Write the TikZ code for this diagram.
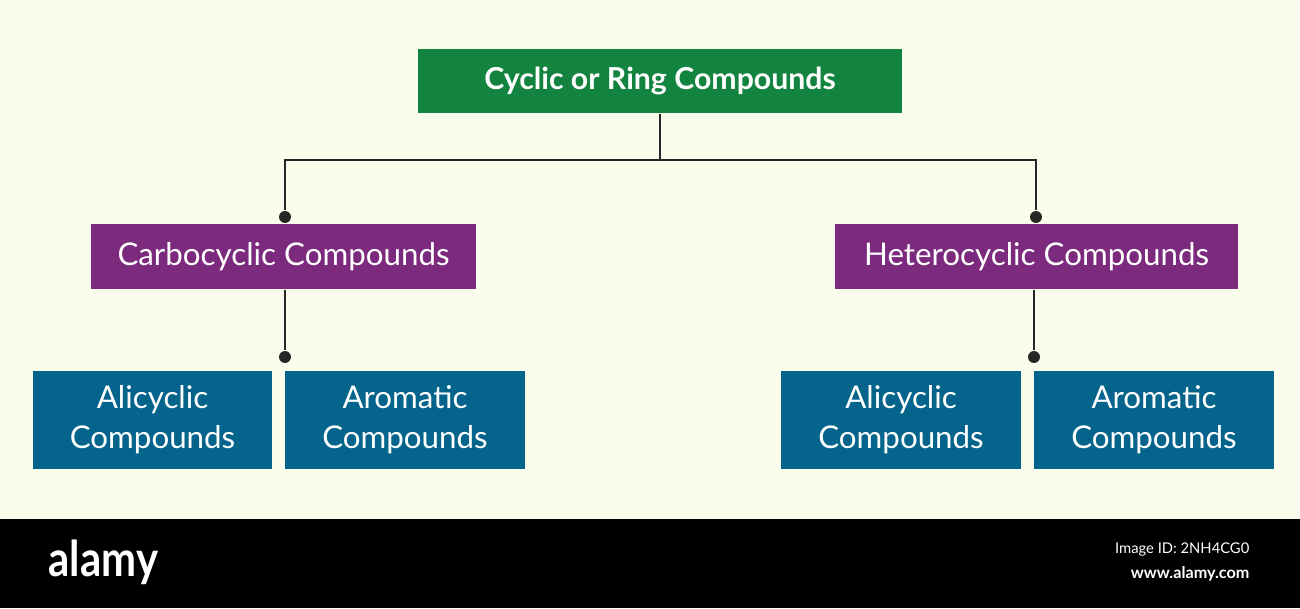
\documentclass[tikz,border=0pt]{standalone}
\usepackage{fontspec}
\setmainfont{Lato}
\definecolor{bg}{HTML}{FAFDEB}
\definecolor{grn}{HTML}{13843F}
\definecolor{pur}{HTML}{7B2A7E}
\definecolor{blu}{HTML}{05648C}
\begin{document}
\begin{tikzpicture}[x=0.01cm,y=-0.01cm,
  box/.style={draw=none,text=white,align=center,inner sep=0pt,font=\fontsize{8.9}{11.3}\selectfont},
  conn/.style={draw=black!85,line width=0.6pt},
  dot/.style={circle,fill=black!85,inner sep=0pt,minimum size=3.4pt}]
\fill[bg] (0,0) rectangle (1300,519);
\fill[black] (0,519) rectangle (1300,608);
\useasboundingbox (0,0) rectangle (1300,608);
\node[box,fill=grn,minimum width=4.84cm,minimum height=0.64cm,font=\bfseries\fontsize{8.6}{10.4}\selectfont] (top) at (660,81) {Cyclic or Ring Compounds};
\node[box,fill=pur,minimum width=3.85cm,minimum height=0.65cm] (carb) at (283.5,256.5) {Carbocyclic Compounds};
\node[box,fill=pur,minimum width=4.03cm,minimum height=0.65cm] (het) at (1036.5,256.5) {Heterocyclic Compounds};
\node[box,fill=blu,minimum width=2.39cm,minimum height=0.98cm] (a1) at (152.5,420) {Alicyclic\\Compounds};
\node[box,fill=blu,minimum width=2.40cm,minimum height=0.98cm] (a2) at (405,420) {Aromatic\\Compounds};
\node[box,fill=blu,minimum width=2.40cm,minimum height=0.98cm] (a3) at (901,420) {Alicyclic\\Compounds};
\node[box,fill=blu,minimum width=2.40cm,minimum height=0.98cm] (a4) at (1154,420) {Aromatic\\Compounds};
\coordinate (j) at (660,160);
\node[dot] (d1) at (285,217) {};
\node[dot] (d2) at (1036,217) {};
\node[dot] (d3) at (285,357) {};
\node[dot] (d4) at (1034,357) {};
\draw[conn] (top.south) -- (j);
\draw[conn] (d1) |- (j) -| (d2);
\draw[conn] (carb.south -| d3) -- (d3);
\draw[conn] (het.south -| d4) -- (d4);
\node[text=white,font=\bfseries\fontsize{14}{16}\selectfont,anchor=west,inner sep=0pt,xscale=0.85] (logo) at (48,562) {alamy};
\node[text=white,font=\fontsize{4.2}{5}\selectfont,anchor=east,inner sep=0pt] (iid) at (1250,549) {Image ID: 2NH4CG0};
\node[text=white,font=\bfseries\fontsize{4.6}{5.5}\selectfont,anchor=east,inner sep=0pt] (www) at (1250,574) {www.alamy.com};
\end{tikzpicture}
\end{document}
